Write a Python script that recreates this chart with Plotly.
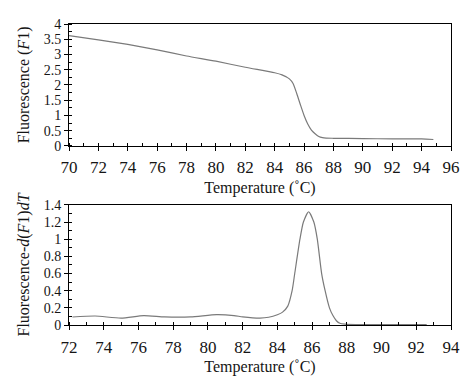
import plotly.graph_objects as go

# Melting curve (top)
temp_melt = [70, 72, 74, 76, 78, 80, 82, 84, 84.5, 85.0, 85.25, 85.5, 85.75, 86.0, 86.25, 86.5, 86.75, 87.0, 87.25, 87.5, 88, 90, 92, 94, 94.8]
fluor_melt = [3.62, 3.48, 3.33, 3.15, 2.95, 2.78, 2.58, 2.40, 2.33, 2.20, 2.05, 1.72, 1.35, 1.00, 0.72, 0.52, 0.40, 0.31, 0.27, 0.255, 0.25, 0.24, 0.23, 0.23, 0.21]

# Derivative curve (bottom)
temp_deriv = [72.2, 73.5, 75.0, 76.3, 77.5, 79.0, 80.5, 81.5, 82.0, 83.0, 83.5, 84.0, 84.3, 84.6, 84.85, 85.0, 85.3, 85.5, 85.8, 86.1, 86.3, 86.55, 86.75, 87.0, 87.2, 87.4, 87.6, 87.9, 88.5, 90.0, 92.6]
fluor_deriv = [0.093, 0.105, 0.08, 0.11, 0.095, 0.095, 0.12, 0.11, 0.095, 0.08, 0.09, 0.12, 0.15, 0.22, 0.40, 0.60, 1.00, 1.20, 1.32, 1.20, 1.00, 0.60, 0.40, 0.20, 0.11, 0.05, 0.02, 0.01, 0.005, 0.005, 0.005]

top_xticks = [70, 72, 74, 76, 78, 80, 82, 84, 86, 88, 90, 92, 94, 96]
top_yticks = [0, 0.5, 1, 1.5, 2, 2.5, 3, 3.5, 4]
bot_xticks = [72, 74, 76, 78, 80, 82, 84, 86, 88, 90, 92, 94]
bot_yticks = [0, 0.2, 0.4, 0.6, 0.8, 1, 1.2, 1.4]

FONT = "Liberation Serif"
TXT = "#151515"
LINE = "#7a7a7a"

fig = go.Figure()
fig.add_trace(go.Scatter(x=temp_melt, y=fluor_melt, mode="lines", line=dict(color=LINE, width=1.2, shape="spline", smoothing=0.6), xaxis="x", yaxis="y", showlegend=False))
fig.add_trace(go.Scatter(x=temp_deriv, y=fluor_deriv, mode="lines", line=dict(color=LINE, width=1.2, shape="spline", smoothing=0.6), xaxis="x2", yaxis="y2", showlegend=False))

def ax(rng, ticks, minor_d, title, tsize, anchor, standoff, lblpad, domain=None):
    d = dict(range=rng, tickmode="array", tickvals=ticks, ticktext=[f"{t:g}" for t in ticks],
             ticks="outside", ticklen=4, tickwidth=1, tickcolor="black",
             minor=dict(dtick=minor_d, ticks="inside", ticklen=3, tickwidth=1, tickcolor="black"),
             showline=True, linecolor="black", linewidth=1, mirror=True,
             showgrid=False, zeroline=False, automargin=False,
             ticklabelstandoff=lblpad,
             tickfont=dict(family=FONT, size=tsize, color=TXT),
             title=dict(text=title, font=dict(family=FONT, size=16, color=TXT), standoff=standoff),
             anchor=anchor)
    if domain:
        d["domain"] = domain
    return d

def overlay(rng, ticks, over, anchor):
    return dict(range=rng, tickmode="array", tickvals=ticks, ticks="inside", ticklen=4, tickwidth=1, tickcolor="black",
                showticklabels=False, showline=False, showgrid=False, zeroline=False, overlaying=over, anchor=anchor,
                automargin=False)

top_dom = [0.595, 1.0]
bot_dom = [0.0, 0.399]

fig.update_layout(
    width=466, height=384,
    margin=dict(l=61, r=23, t=16, b=67),
    paper_bgcolor="white", plot_bgcolor="white",
    xaxis=ax([70, 96], top_xticks, 1, "Temperature (˚C)", 17, "y", 5, 2),
    yaxis=ax([0, 4], top_yticks, 0.25, "Fluorescence (<i>F</i>1)", 14, "x", 10, 0, domain=top_dom),
    xaxis2=ax([72, 94], bot_xticks, 1, "Temperature (˚C)", 17, "y2", 4, 3),
    yaxis2=ax([0, 1.4], bot_yticks, 0.1, "Fluorescence-<i>d</i>(<i>F</i>1)<i>dT</i>", 14, "x2", 10, 0, domain=bot_dom),
    xaxis3=overlay([70, 96], top_xticks, "x", "y"),
    yaxis3=overlay([0, 4], top_yticks, "y", "x"),
    xaxis4=overlay([72, 94], bot_xticks, "x2", "y2"),
    yaxis4=overlay([0, 1.4], bot_yticks, "y2", "x2"),
)

fig.write_html("out.html")
